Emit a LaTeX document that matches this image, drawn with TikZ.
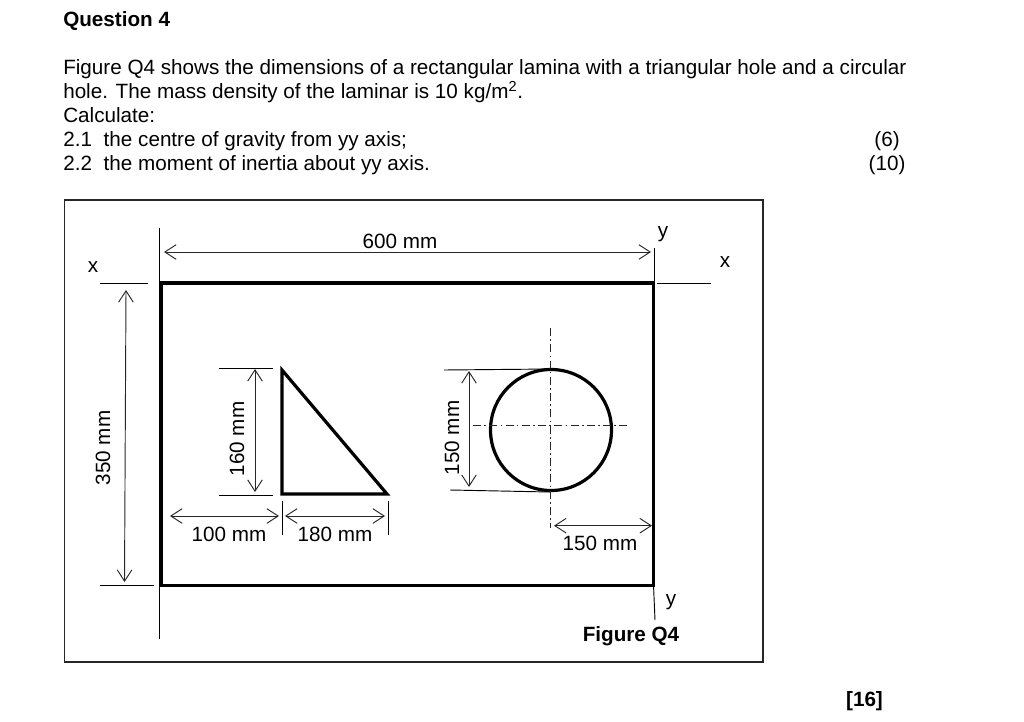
\documentclass[tikz,border=0pt]{standalone}
\usepackage{fontspec}
\setmainfont{Liberation Sans}
\usetikzlibrary{arrows.meta}
\tikzset{
EDGE/.style ={draw=black,line join=miter,line width=2.4pt},
THIN/.style ={draw=black,line width=0.7pt},
FRAME/.style ={draw=black!85,line width=0.95pt},
DIM/.style ={draw=black!85,line width=0.7pt,{Straight Barb[length=8.5pt,width=11pt,line width=0.7pt]}-{Straight Barb[length=8.5pt,width=11pt,line width=0.7pt]}},
CENTRE/.style ={draw=black!85,line width=0.7pt,dash pattern=on 6pt off 2.5pt on 1.2pt off 2.5pt},
LABEL/.style ={inner sep=0pt,font=\fontsize{15.5}{18}\selectfont},
BOLDLABEL/.style ={inner sep=0pt,font=\fontsize{15.5}{18}\selectfont\bfseries},
TEXTLINE/.style ={LABEL,anchor=base west},
}
\begin{document}
\begin{tikzpicture}[x=0.75pt,y=-0.75pt] %Figure Q4
	\useasboundingbox (0,0) rectangle (1024,721);
	% question text
	\node[BOLDLABEL,anchor=base west] (title) at (63,26.5) {Question 4};
	\node[TEXTLINE] (lineA) at (63,74) {Figure Q4 shows the dimensions of a rectangular lamina with a triangular hole and a circular};
	\node[TEXTLINE] (lineB) at (63,98.5) {hole. The mass density of the laminar is 10 kg/m\textsuperscript{2}.};
	\node[TEXTLINE] (lineC) at (63,122) {Calculate:};
	\node[TEXTLINE] (lineD) at (63,146.5) {2.1\hspace{4.5pt} the centre of gravity from yy axis;};
	\node[TEXTLINE] (lineE) at (63,170) {2.2\hspace{4.5pt} the moment of inertia about yy axis.};
	\node[LABEL,anchor=base] (markA) at (887,146.5) {(6)};
	\node[LABEL,anchor=base] (markB) at (887,170) {(10)};
	\node[BOLDLABEL,anchor=base] (total) at (864.5,706) {[16]};
	% frame and lamina
	\path[FRAME] (64.5,200) rectangle (763,662);
	\path[EDGE] (161,283) rectangle (653.5,585.5);
	\path[EDGE] (282,370) -- (282,494) -- (387,494) -- cycle;
	\path[EDGE] (551,430) circle (60.5);
	% centre lines
	\path[CENTRE] (550.7,328) -- (550.7,528);
	\path[CENTRE] (473,425.7) -- (630,425.7);
	% extension lines
	\path[THIN] (159.3,228) -- (159.3,639);
	\path[THIN] (654.7,248) -- (654.7,283);
	\path[THIN] (653.5,585) -- (655,620);
	\path[THIN] (100,283) -- (148,283);
	\path[THIN] (100,585.5) -- (154,585.5);
	\path[THIN] (657,283) -- (711,283);
	\path[THIN] (219,368.5) -- (273,368.5);
	\path[THIN] (219,495) -- (273,495);
	\path[THIN] (282,501) -- (282,535);
	\path[THIN] (388,501) -- (388,535);
	\path[THIN] (444,370) -- (551,369);
	\path[THIN] (450,490) -- (550,492);
	% dimensions
	\path[DIM] (164,252) -- (651,252);
	\path[DIM] (126,290) -- (124.5,582);
	\path[DIM] (255,369) -- (255,492);
	\path[DIM] (170,516) -- (279,516);
	\path[DIM] (285,516) -- (385,516);
	\path[DIM] (469,371) -- (469,487);
	\path[DIM] (554,525.7) -- (652,525.7);
	% labels
	\node[LABEL] (top) at (400,241) {600 mm};
	\node[LABEL,rotate=90] (height) at (103,448) {350 mm};
	\node[LABEL,rotate=90] (triH) at (237,439) {160 mm};
	\node[LABEL,rotate=90] (circD) at (452,438) {150 mm};
	\node[LABEL] (triX) at (229,534) {100 mm};
	\node[LABEL] (triB) at (335,534) {180 mm};
	\node[LABEL] (circX) at (600,543) {150 mm};
	\node[LABEL] (xL) at (93,267) {x};
	\node[LABEL] (xR) at (725,262) {x};
	\node[LABEL] (yT) at (663,234) {y};
	\node[LABEL] (yB) at (671,602) {y};
	\node[BOLDLABEL] (caption) at (631,636) {Figure Q4};
\end{tikzpicture}
\end{document}
